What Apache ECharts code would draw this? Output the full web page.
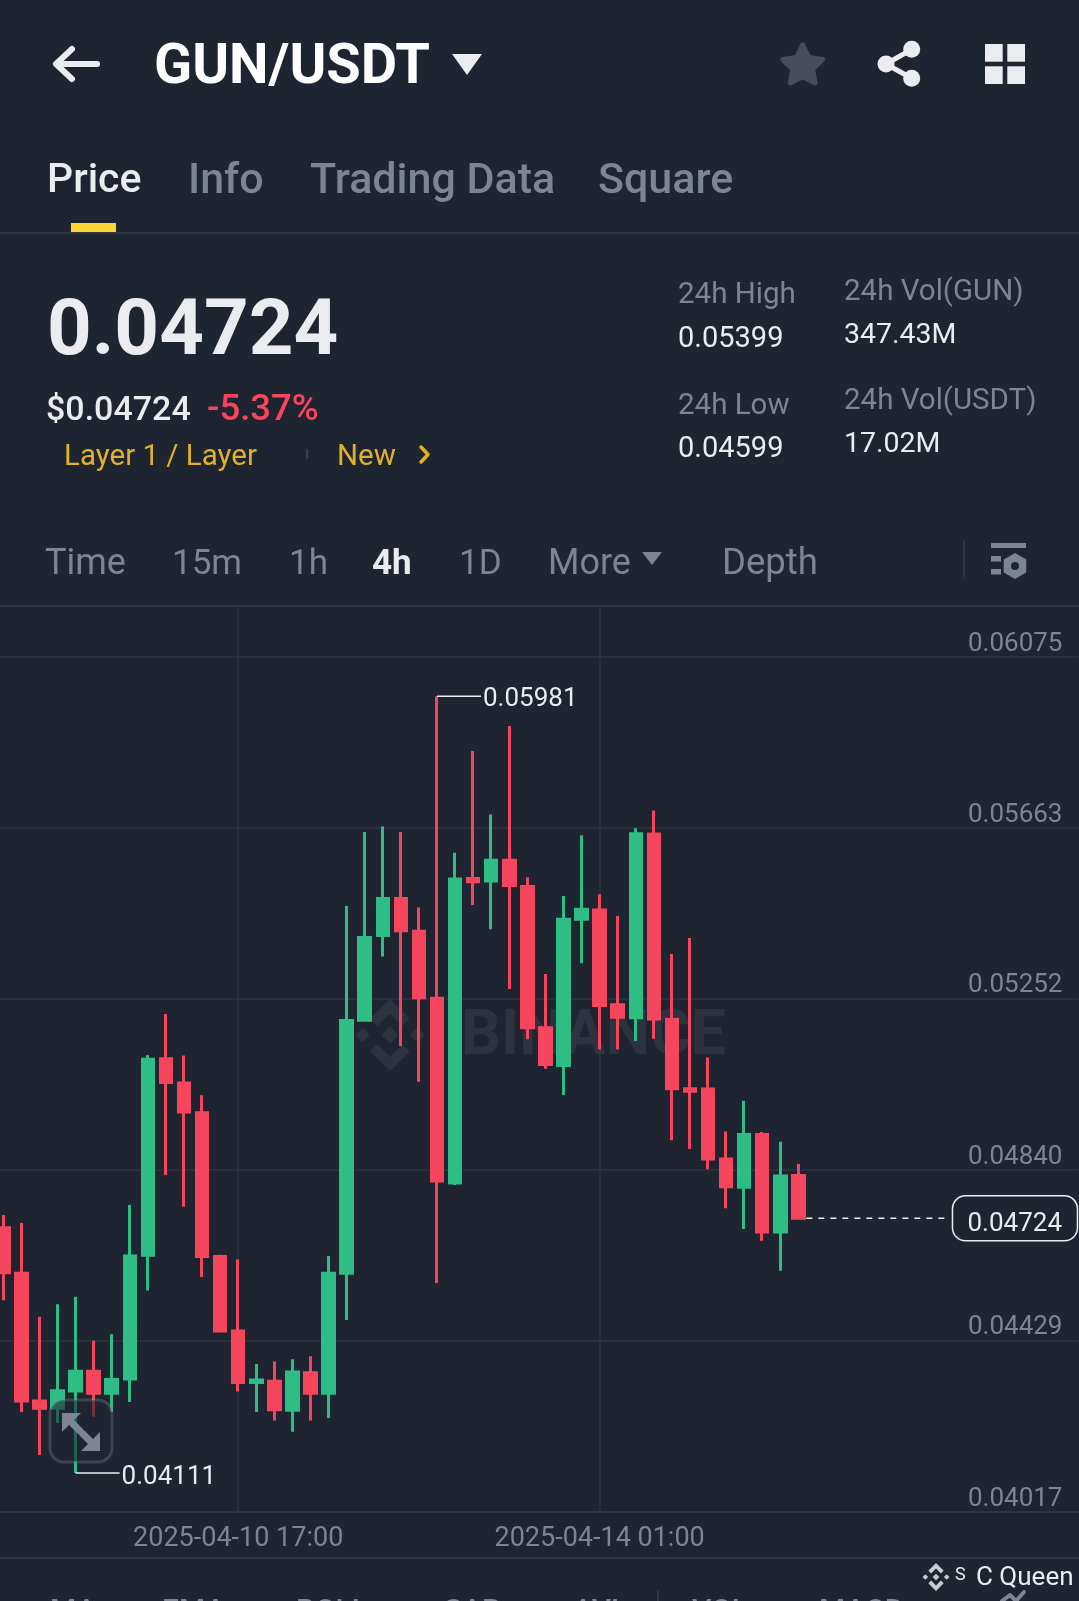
<!DOCTYPE html>
<html>
<head>
<meta charset="utf-8">
<title>GUN/USDT</title>
<style>
  html, body { margin: 0; padding: 0; background: #1e2430; overflow: hidden; }
  #chart { width: 1079px; height: 1601px; }
</style>
</head>
<body>
<div id="chart"></div>
<script src="https://cdn.jsdelivr.net/npm/echarts@6/dist/echarts.min.js"></script>
<script>
// 4h candles
const opens = [0.04701, 0.04592, 0.04284, 0.04267, 0.04308, 0.04356, 0.04303, 0.04337, 0.04635, 0.05108,
  0.05050, 0.04978, 0.04632, 0.04453, 0.04329, 0.04332, 0.04262, 0.04352, 0.04303, 0.04592,
  0.05201, 0.05405, 0.05494, 0.05415, 0.05254, 0.04809, 0.05542, 0.05536, 0.05586, 0.05523,
  0.05183, 0.05092, 0.05444, 0.05466, 0.05238, 0.05207, 0.05649, 0.05203, 0.05036, 0.05035,
  0.04867, 0.04799, 0.04926, 0.04691, 0.04827];
const closes = [0.04593, 0.04284, 0.04267, 0.04309, 0.04356, 0.04303, 0.04336, 0.04633, 0.05107, 0.05051,
  0.04980, 0.04632, 0.04453, 0.04329, 0.04335, 0.04263, 0.04354, 0.04303, 0.04592, 0.05200,
  0.05400, 0.05494, 0.05416, 0.05255, 0.04814, 0.05541, 0.05534, 0.05586, 0.05525, 0.05183,
  0.05094, 0.05444, 0.05468, 0.05236, 0.05208, 0.05650, 0.05204, 0.05036, 0.05030, 0.04867,
  0.04800, 0.04926, 0.04691, 0.04826, 0.04724];
const lows = [0.04527, 0.04258, 0.04154, 0.04231, 0.04111, 0.04246, 0.04258, 0.04282, 0.04550, 0.04828,
  0.04752, 0.04583, 0.04453, 0.04307, 0.04258, 0.04237, 0.04210, 0.04237, 0.04243, 0.04479,
  0.05201, 0.05354, 0.05139, 0.05053, 0.04568, 0.04804, 0.05478, 0.05420, 0.05276, 0.05155,
  0.05084, 0.05021, 0.05338, 0.05131, 0.05131, 0.05151, 0.05156, 0.04912, 0.04891, 0.04842,
  0.04748, 0.04698, 0.04670, 0.04598, 0.04724];
const highs = [0.04732, 0.04713, 0.04487, 0.04517, 0.04535, 0.04429, 0.04445, 0.04756, 0.05117, 0.05216,
  0.05116, 0.05020, 0.04636, 0.04625, 0.04373, 0.04379, 0.04385, 0.04392, 0.04633, 0.05476,
  0.05654, 0.05667, 0.05654, 0.05472, 0.05981, 0.05604, 0.05849, 0.05696, 0.05909, 0.05545,
  0.05312, 0.05500, 0.05646, 0.05504, 0.05452, 0.05663, 0.05706, 0.05360, 0.05399, 0.05111,
  0.04933, 0.05007, 0.04932, 0.04908, 0.04855];

const yTicks = [0.04017, 0.04429, 0.04840, 0.05252, 0.05663, 0.06075];
const xTickLabels = ['2025-04-10 17:00', '2025-04-14 01:00'];
const highMark = [24, 0.05981];
const lowMark = [4, 0.04111];
const lastPrice = [44, 0.04724];

// first candle is 04-08 13:00, 15 empty slots on the right
const pad = n => String(n).padStart(2, '0');
const categories = [];
for (let i = 0; i < 60; i++) {
  const d = new Date(Date.UTC(2025, 3, 8, 13 + i * 4));
  categories.push(`${d.getUTCFullYear()}-${pad(d.getUTCMonth() + 1)}-${pad(d.getUTCDate())} ${pad(d.getUTCHours())}:00`);
}
const candles = opens.map((o, i) => [o, closes[i], lows[i], highs[i]]);

const BG = '#1e2430', LINE = '#2f353f', GREY = '#7d8592', WHITE = '#eaecef';
const GREEN = '#2ebd85', RED = '#f6465d', GOLD = '#e0b12c';
const FONT = 'Roboto, sans-serif';

// y is nudged 3px, roboto sits high in its box compared to the app font
const txt = (x, y, text, size, fill, weight, align) => ({
  type: 'text', z: 50, silent: true,
  style: { x, y: y + 3, text, fill, align: align || 'left', verticalAlign: 'middle', font: `${weight || 400} ${size}px ${FONT}` }
});
const poly = (points, fill, z) => ({ type: 'polygon', z: z || 50, silent: true, shape: { points }, style: { fill } });
const rect = (x, y, w, h, fill, z) => ({ type: 'rect', z: z || 50, silent: true, shape: { x, y, width: w, height: h }, style: { fill } });
const seg = (pts, stroke, w, z) => ({ type: 'polyline', z: z || 50, silent: true, shape: { points: pts }, style: { stroke, lineWidth: w, fill: 'none', lineCap: 'round', lineJoin: 'round' } });
const dot = (cx, cy, r, fill, z) => ({ type: 'circle', z: z || 50, silent: true, shape: { cx, cy, r }, style: { fill } });

// binance logo, r = half height
function logo(cx, cy, r, fill, z) {
  const p = pts => pts.map(([a, b]) => [cx + a * r, cy + b * r]);
  const dia = (a, b, s) => p([[a, b - s], [a + s, b], [a, b + s], [a - s, b]]);
  return [
    poly(p([[0, -1], [0.55, -0.45], [0.35, -0.25], [0, -0.6], [-0.35, -0.25], [-0.55, -0.45]]), fill, z),
    poly(p([[0, 1], [0.55, 0.45], [0.35, 0.25], [0, 0.6], [-0.35, 0.25], [-0.55, 0.45]]), fill, z),
    poly(dia(0, 0, 0.24), fill, z),
    poly(dia(-0.76, 0, 0.2), fill, z),
    poly(dia(0.76, 0, 0.2), fill, z)
  ];
}

const star = [];
for (let i = 0; i < 10; i++) {
  const r = i % 2 ? 10.5 : 21, a = -Math.PI / 2 + i * Math.PI / 5;
  star.push([802.7 + r * Math.cos(a), 66 + r * Math.sin(a)]);
}
const hexagon = [];
for (let i = 0; i < 6; i++) {
  const a = -Math.PI / 2 + i * Math.PI / 3;
  hexagon.push([1015 + 13 * Math.cos(a), 566 + 13 * Math.sin(a)]);
}

const headerParts = [
  // top bar
  seg([[57, 64], [97, 64]], WHITE, 6),
  seg([[72, 49], [56, 64], [72, 79]], WHITE, 6),
  txt(154, 66, 'GUN/USDT', 56, '#ffffff', 700),
  poly([[452, 54], [482, 54], [467, 75]], WHITE),
  poly(star, '#474d5a'),
  seg(star.concat([star[0]]), '#474d5a', 5),
  seg([[911.7, 49.3], [886, 64], [911.7, 78.3]], WHITE, 5),
  dot(911.7, 49.3, 8.5, WHITE), dot(886, 64, 8.5, WHITE), dot(911.7, 78.3, 8.5, WHITE),
  rect(985, 44, 17.7, 17.7, WHITE), rect(1007.3, 44, 17.7, 17.7, WHITE),
  rect(985, 66.3, 17.7, 17.7, WHITE), rect(1007.3, 66.3, 17.7, 17.7, WHITE),
  // tabs
  txt(47, 179, 'Price', 41, WHITE, 500),
  txt(188, 179, 'Info', 43, GREY, 500),
  txt(310, 179, 'Trading Data', 43, GREY, 500),
  txt(598, 179, 'Square', 43, GREY, 500),
  rect(71, 223, 45, 9, '#fcd535'),
  rect(0, 232, 1079, 2, LINE),
  // price block
  txt(47, 331, '0.04724', 78, WHITE, 700),
  txt(46, 408, '$0.04724', 34, WHITE, 500),
  txt(207, 408, '-5.37%', 36.5, RED, 500),
  txt(64, 455, 'Layer 1 / Layer', 29.5, GOLD),
  rect(306, 449, 2, 10, '#3a404b'),
  txt(337, 455, 'New', 29.5, GOLD),
  seg([[421, 447], [428, 454.5], [421, 462]], GOLD, 3.5),
  txt(678, 293, '24h High', 29.5, GREY),
  txt(678, 337, '0.05399', 29, WHITE),
  txt(844, 290, '24h Vol(GUN)', 29.5, GREY),
  txt(844, 333, '347.43M', 28.5, WHITE),
  txt(678, 404, '24h Low', 29.5, GREY),
  txt(678, 447, '0.04599', 29, WHITE),
  txt(844, 399, '24h Vol(USDT)', 29.5, GREY),
  txt(844, 442, '17.02M', 28.5, WHITE),
  // interval row
  txt(45, 562, 'Time', 36, GREY),
  txt(172, 562, '15m', 35, GREY),
  txt(289, 562, '1h', 35, GREY),
  txt(372, 562, '4h', 35, WHITE, 700),
  txt(459, 562, '1D', 35, GREY),
  txt(548, 562, 'More', 36, GREY),
  poly([[642, 552], [662, 552], [652, 565]], GREY),
  txt(722, 562, 'Depth', 36.5, GREY),
  rect(963, 540, 2, 37, '#2f353f'),
  rect(991, 543, 35, 5, GREY),
  rect(991, 556, 10, 5.5, GREY),
  rect(991, 569, 10, 5.5, GREY),
  poly(hexagon, GREY),
  dot(1015, 566, 4, BG),
  rect(0, 605, 1079, 2, LINE),
  rect(0, 1557, 1079, 2, LINE),
  // bottom strip, cut off by the screen edge
  txt(50, 1609, 'MA', 30, GREY, 500),
  txt(162, 1609, 'EMA', 30, GREY, 500),
  txt(296, 1609, 'BOLL', 30, GREY, 500),
  txt(444, 1609, 'SAR', 30, GREY, 500),
  txt(573, 1609, 'AVL', 30, GREY, 500),
  rect(657, 1590, 2, 11, LINE),
  txt(692, 1609, 'VOL', 30, GREY, 500),
  txt(819, 1609, 'MACD', 30, GREY, 500),
  seg([[1002, 1601], [1010, 1595], [1016, 1601], [1024, 1592]], GREY, 4),
  // reposter stamp
  ...logo(936, 1577, 14, '#c9ccd2'),
  txt(955, 1572, 'S', 18, WHITE),
  txt(976, 1575, 'C Queen', 26, WHITE),
  // chart watermark
  ...logo(390, 1035, 36, 'rgba(255,255,255,0.07)', 1),
  { type: 'text', z: 1, silent: true, style: { x: 461, y: 1038, text: 'BINANCE', fill: 'rgba(255,255,255,0.07)', align: 'left', verticalAlign: 'middle', font: `700 62.5px ${FONT}` } },
  // expand button
  { type: 'rect', z: 60, silent: true, shape: { x: 50, y: 1400, width: 62, height: 62, r: 14 }, style: { fill: 'rgba(30,36,48,0.6)', stroke: 'rgba(132,142,156,0.3)', lineWidth: 3 } },
  poly([[62, 1413], [81, 1413], [62, 1432]], GREY, 61),
  seg([[70, 1421], [80, 1431]], GREY, 7, 61),
  poly([[100, 1451], [81, 1451], [100, 1432]], GREY, 61),
  seg([[92, 1443], [83, 1434]], GREY, 7, 61)
];

// high / low callouts
function renderMark(params, api) {
  const p = api.coord([api.value(0), api.value(1)]);
  const nudge = params.dataIndex ? 5 : 3;
  return {
    type: 'group',
    children: [
      { type: 'line', shape: { x1: p[0], y1: p[1], x2: p[0] + 44, y2: p[1] }, style: { stroke: WHITE, lineWidth: 1.5 } },
      { type: 'text', style: { x: p[0] + 46, y: p[1] + nudge, text: api.value(1).toFixed(5), fill: WHITE, verticalAlign: 'middle', font: `400 26px ${FONT}` } }
    ]
  };
}

// last price line and pill
function renderLast(params, api) {
  const p = api.coord([api.value(0), api.value(1)]);
  const right = params.coordSys.x + params.coordSys.width;
  return {
    type: 'group',
    children: [
      { type: 'line', shape: { x1: p[0] + 8, y1: p[1], x2: right - 132, y2: p[1] }, style: { stroke: WHITE, lineWidth: 1.5, lineDash: [6, 6] } },
      { type: 'rect', shape: { x: right - 126, y: p[1] - 22.5, width: 125, height: 45, r: 13 }, style: { fill: BG, stroke: WHITE, lineWidth: 1.5 } },
      { type: 'text', style: { x: right - 111, y: p[1] + 6, text: api.value(1).toFixed(5), fill: WHITE, verticalAlign: 'middle', font: `400 26px ${FONT}` } }
    ]
  };
}

const showDate = (idx, value) => xTickLabels.includes(value);

const chart = echarts.init(document.getElementById('chart'), null, { renderer: 'canvas' });
chart.setOption({
  animation: false,
  backgroundColor: BG,
  textStyle: { fontFamily: FONT },
  grid: { left: -5.73, top: 606, width: 1084.2, height: 906, outerBoundsMode: 'none' },
  xAxis: {
    type: 'category',
    data: categories,
    axisLine: { show: true, lineStyle: { color: LINE, width: 2 } },
    axisTick: { show: false, alignWithLabel: true, interval: showDate },
    axisLabel: { interval: showDate, color: GREY, fontSize: 27, margin: 14, fontFamily: FONT },
    splitLine: { show: true, alignWithLabel: true, interval: showDate, lineStyle: { color: LINE, width: 1.5 } }
  },
  yAxis: {
    type: 'value',
    position: 'right',
    min: 0.04017,
    max: 0.06198,
    scale: true,
    axisLine: { show: false },
    axisTick: { show: false, customValues: yTicks },
    axisLabel: {
      customValues: yTicks,
      inside: true,
      margin: 16,
      color: GREY,
      fontSize: 26,
      fontFamily: FONT,
      verticalAlign: 'bottom',
      lineHeight: 26,
      formatter: v => v.toFixed(5)
    },
    splitLine: { show: true, lineStyle: { color: LINE, width: 1.5 } }
  },
  series: [
    {
      type: 'candlestick',
      data: candles,
      barWidth: 12,
      z: 5,
      itemStyle: { color: GREEN, color0: RED, borderColor: GREEN, borderColor0: RED, borderWidth: 3 }
    },
    { type: 'custom', data: [highMark, lowMark], renderItem: renderMark, encode: { x: 0, y: 1 }, z: 6, silent: true, clip: false },
    { type: 'custom', data: [lastPrice], renderItem: renderLast, encode: { x: 0, y: 1 }, z: 6, silent: true, clip: false }
  ],
  graphic: { elements: headerParts }
});
</script>
</body>
</html>
